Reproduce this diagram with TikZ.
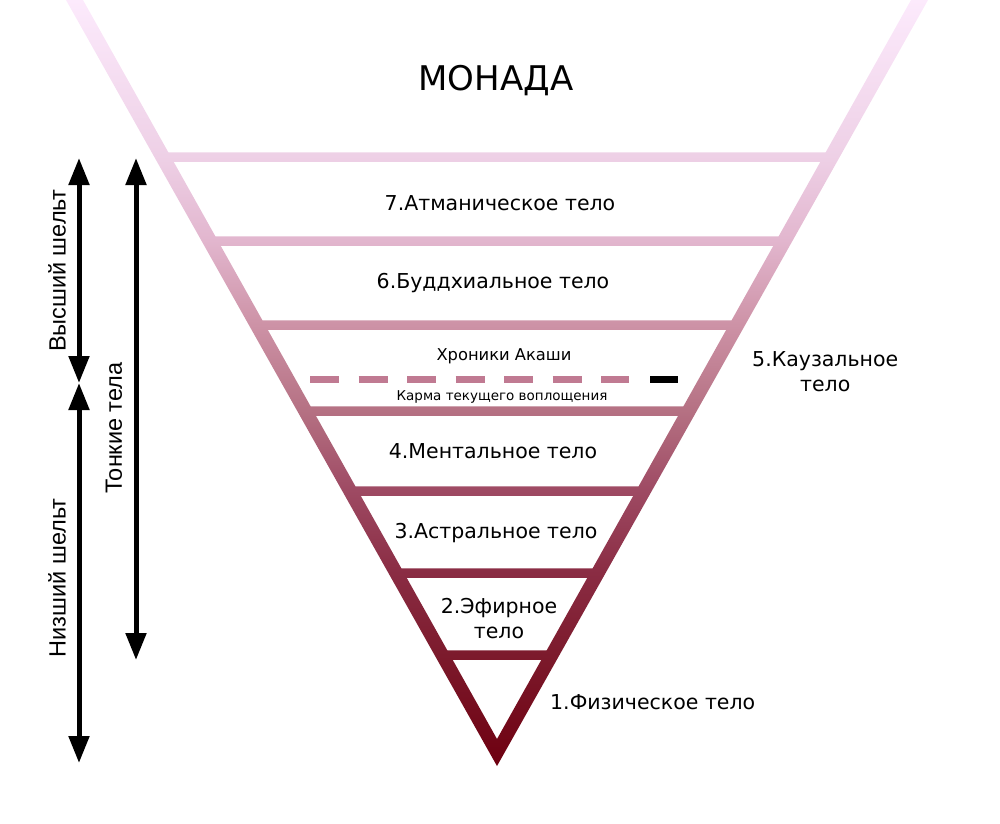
\documentclass[tikz,border=0pt]{standalone}
\usepackage{fontspec}
\setmainfont{DejaVu Sans}
\newfontfamily\arialfont{Liberation Sans}
\usetikzlibrary{arrows.meta}
\definecolor{monadtop}{RGB}{252,234,252}
\definecolor{monadA}{RGB}{238,208,230}
\definecolor{monadB}{RGB}{226,182,206}
\definecolor{monadC}{RGB}{205,146,166}
\definecolor{monadD}{RGB}{181,113,131}
\definecolor{monadE}{RGB}{158,74,99}
\definecolor{monadF}{RGB}{138,44,67}
\definecolor{monadG}{RGB}{124,26,44}
\definecolor{monadbot}{RGB}{110,0,16}
\definecolor{dashpink}{RGB}{192,122,146}
\pgfdeclareverticalshading{monadgrad}{100bp}{color(0bp)=(monadbot); color(25bp)=(monadbot);
  color(32.2bp)=(monadG); color(37.6bp)=(monadF); color(43bp)=(monadE); color(48.2bp)=(monadD);
  color(53.8bp)=(monadC); color(59.3bp)=(monadB); color(64.8bp)=(monadA); color(75bp)=(monadtop);
  color(100bp)=(monadtop)}
\tikzset{
  bodylabel/.style={font=\fontsize{20.5}{25}\selectfont, align=center, inner sep=0},
  sidelabel/.style={font=\arialfont\fontsize{23.5}{28}\selectfont, rotate=90, inner sep=0},
  spanarrow/.style={line width=5pt, {Triangle[length=27pt,width=20pt]}-{Triangle[length=27pt,width=20pt]}}
}
\begin{document}
\begin{tikzpicture}[x=1pt,y=-1pt]
\useasboundingbox (0,0) rectangle (1000,823);
% triangle and bars, one shaded path
\shade[shading=monadgrad]
  (66,0) -- (497,766) -- (928,0) -- (911,0) -- (497,739) -- (83,0) -- cycle
  \foreach \y in {157,241,325,411,491,573,655}{
    ({75+0.561*\y},\y-4.75) rectangle ({919-0.561*\y},\y+4.75)
  };
% akasha line
\draw[dashpink, line width=7pt, dash pattern=on 29pt off 19.5pt] (310,379) -- (629,379);
\draw[black, line width=7pt] (650,379) -- (678,379);
% labels
\node[font=\fontsize{34}{40}\selectfont, inner sep=0] (monad) at (496,81) {МОНАДА};
\foreach \n/\x/\y/\t in {atma/500/203/{7.Атманическое тело}, buddhi/493/283/{6.Буддхиальное тело},
    mental/493/451/{4.Ментальное тело}, astral/496/533/{3.Астральное тело}, ether/499/619/{2.Эфирное\\тело}}{
  \node[bodylabel] (\n) at (\x,\y) {\t};
}
\node[bodylabel, anchor=west] (causal) at (752,372) {5.Каузальное\\тело};
\node[bodylabel, anchor=west] (phys) at (550,702) {1.Физическое тело};
\node[font=\fontsize{16.3}{20}\selectfont, inner sep=0] (akasha) at (504,356) {Хроники Акаши};
\node[font=\fontsize{13.5}{16}\selectfont, inner sep=0] (karma) at (502,397) {Карма текущего воплощения};
% left side
\coordinate (hitop) at (79,158);
\coordinate (mid) at (79,383);
\coordinate (lobot) at (79,763);
\coordinate (subtop) at (136,158);
\coordinate (subbot) at (136,660);
\draw[spanarrow] (hitop) -- (mid);
\draw[spanarrow] (mid) -- (lobot);
\draw[spanarrow] (subtop) -- (subbot);
\node[sidelabel] (higher) at (57,271) {Высший шельт};
\node[sidelabel] (lower) at (57,578) {Низший шельт};
\node[sidelabel] (subtle) at (114,428) {Тонкие тела};
\end{tikzpicture}
\end{document}
